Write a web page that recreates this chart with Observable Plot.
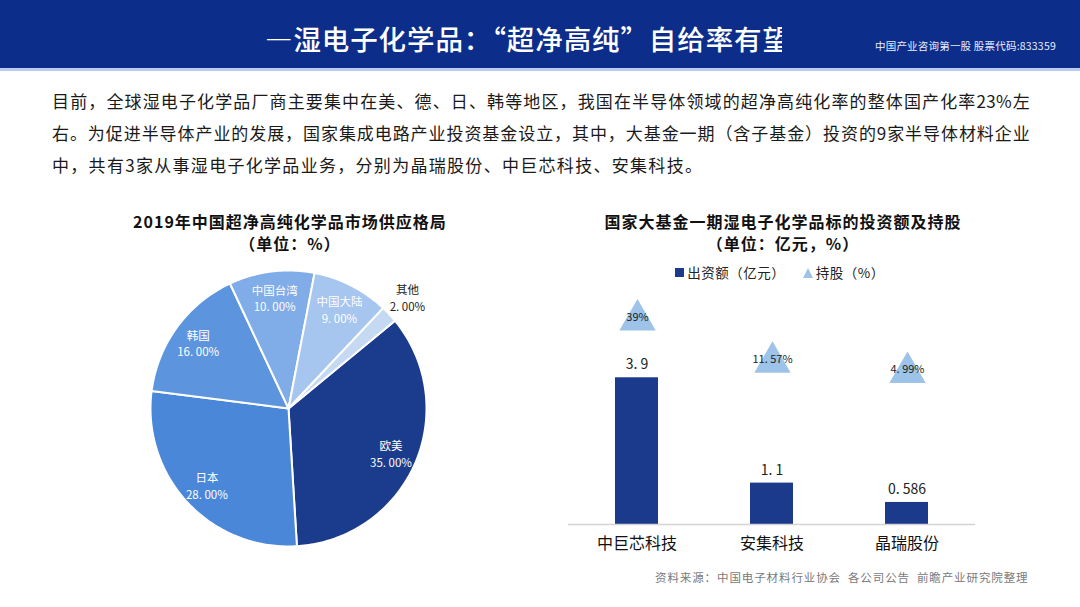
<!DOCTYPE html>
<html lang="zh-CN">
<head>
<meta charset="utf-8">
<script src="https://cdn.jsdelivr.net/npm/d3@7"></script>
<script src="https://cdn.jsdelivr.net/npm/@observablehq/plot@0.6"></script>
<style>
  html, body { margin: 0; padding: 0; background: #fff; }
  #page { position: relative; width: 1080px; height: 607px; overflow: hidden; font-family: "Noto Sans CJK SC", "Noto Sans", sans-serif; color: #222; }
  #header { position: absolute; left: 0; top: 0; width: 1080px; height: 68px; background: #0c2d8a; }
  #headline { position: absolute; left: 0; top: 68px; width: 1080px; height: 3px; background: #b9cdf0; }
  #title { position: absolute; left: 265px; top: 18px; width: 517px; height: 40px; overflow: hidden; white-space: nowrap; color: #fff; font-size: 27.5px; letter-spacing: 0.9px; line-height: 40px; font-weight: 500; }
  #brand { position: absolute; left: 875px; top: 38px; color: #e8eeff; font-size: 10.5px; white-space: nowrap; letter-spacing: 0.2px; }
  .para { position: absolute; left: 52px; width: 978px; font-size: 17px; letter-spacing: 0.3px; line-height: 32px; color: #1a1a1a; white-space: nowrap; }
  .just { text-align: justify; text-align-last: justify; }
  .plain { letter-spacing: 1.3px; }
  .ctitle { position: absolute; text-align: center; font-weight: bold; font-size: 16px; letter-spacing: 1px; line-height: 20px; height: 20px; color: #111; white-space: nowrap; }
  #legend { position: absolute; left: 560px; top: 262px; width: 440px; text-align: center; font-size: 13.5px; color: #222; letter-spacing: 0.5px; }
  #legend span.sw { display: inline-block; width: 9px; height: 9px; background: #1b3a8c; margin-right: 3px; vertical-align: 1px; }
  #legend span.tri { display: inline-block; width: 0; height: 0; border-left: 5.5px solid transparent; border-right: 5.5px solid transparent; border-bottom: 10px solid #9dc3e8; margin-right: 3px; vertical-align: 0px; }
  #source { position: absolute; left: 655px; top: 569px; font-size: 11.5px; color: #7a7a7a; letter-spacing: 0.9px; white-space: nowrap; }
  .abs { position: absolute; }
</style>
</head>
<body>
<div id="page">
  <div id="header"></div>
  <div id="headline"></div>
  <div id="title">—湿电子化学品：“超净高纯”自给率有望</div>
  <div id="brand">中国产业咨询第一股 股票代码:833359</div>
  <div class="para just" style="top:85px;">目前，全球湿电子化学品厂商主要集中在美、德、日、韩等地区，我国在半导体领域的超净高纯化率的整体国产化率23%左</div>
  <div class="para just" style="top:117px;">右。为促进半导体产业的发展，国家集成电路产业投资基金设立，其中，大基金一期（含子基金）投资的9家半导体材料企业</div>
  <div class="para plain" style="top:149px;">中，共有3家从事湿电子化学品业务，分别为晶瑞股份、中巨芯科技、安集科技。</div>

  <div class="ctitle" style="left:100px; width:380px; top:211px;">2019年中国超净高纯化学品市场供应格局</div>
  <div class="ctitle" style="left:100px; width:380px; top:233px;">（单位：%）</div>
  <div class="ctitle" style="left:563px; width:440px; top:211px;">国家大基金一期湿电子化学品标的投资额及持股</div>
  <div class="ctitle" style="left:563px; width:440px; top:233px;">（单位：亿元，%）</div>
  <div id="legend"><span class="sw"></span>出资额（亿元）&nbsp;&nbsp;&nbsp;&nbsp;&nbsp;<span class="tri"></span>持股（%）</div>

  <div id="pie" class="abs" style="left:138px; top:258px;"></div>
  <div id="bars" class="abs" style="left:560px; top:270px;"></div>
  <div id="tris" class="abs" style="left:560px; top:270px;"></div>

  <div id="source">资料来源：中国电子材料行业协会&nbsp;&nbsp;各公司公告&nbsp;&nbsp;前瞻产业研究院整理</div>
</div>
<script>
// ---------- Data ----------
const pieNames = ["欧美", "日本", "韩国", "中国台湾", "中国大陆", "其他"];
const pieValues = [35, 28, 16, 10, 9, 2];
const pieColors = ["#1b3b8c", "#4a87d9", "#5c95de", "#80ace8", "#a6c5ef", "#c6d9f3"];

const companies = ["中巨芯科技", "安集科技", "晶瑞股份"];
const investment = [3.9, 1.1, 0.586];     // 出资额（亿元）
const holding = [39, 11.57, 4.99];         // 持股（%）

const fmtNum = s => String(s).replace(".", ". ");

// ---------- Pie ----------
const startDeg = 50.5;
const arcs = d3.pie().sort(null)
  .startAngle(startDeg * Math.PI / 180)
  .endAngle(startDeg * Math.PI / 180 + 2 * Math.PI)(pieValues);

const slicePts = [];
const labels = [];
arcs.forEach((a, i) => {
  const name = pieNames[i];
  slicePts.push({name, x: 0, y: 0});
  const n = Math.max(2, Math.ceil((a.endAngle - a.startAngle) * 180 / Math.PI));
  for (let k = 0; k <= n; k++) {
    const t = a.startAngle + (a.endAngle - a.startAngle) * k / n;
    slicePts.push({name, x: Math.sin(t), y: Math.cos(t)});
  }
  slicePts.push({name, x: 0, y: 0});
  const mid = (a.startAngle + a.endAngle) / 2;
  const outside = pieValues[i] < 5;
  const f = outside ? 1.18 : 0.81;
  labels.push({
    name, x: f * Math.sin(mid), y: f * Math.cos(mid),
    text: name + "\n" + fmtNum(pieValues[i].toFixed(2)) + "%",
    color: outside ? "#222" : "#ffffff"
  });
});

const R = 150 / 138;
const pie = Plot.plot({
  width: 300, height: 300,
  margin: 0,
  x: {domain: [-R, R], axis: null},
  y: {domain: [-R, R], axis: null},
  color: {domain: pieNames, range: pieColors},
  style: {background: "transparent", overflow: "visible"},
  marks: [
    Plot.line(slicePts, {x: "x", y: "y", z: "name", fill: "name", stroke: "#ffffff", strokeWidth: 2, strokeLinejoin: "round"}),
    Plot.text(labels, {x: "x", y: "y", text: "text", fill: d => d.color, fontSize: 11.5, lineHeight: 1.45, fontFamily: "Noto Sans CJK SC"})
  ]
});
document.getElementById("pie").appendChild(pie);

// ---------- Bars ----------
const barData = companies.map((c, i) => ({company: c, inv: investment[i], hold: holding[i]}));
const common = {
  width: 440, height: 300,
  marginLeft: 8, marginRight: 25, marginTop: 20, marginBottom: 46,
  style: {background: "transparent", fontFamily: "Noto Sans CJK SC", overflow: "visible"}
};
const xOpts = {domain: companies, paddingInner: 0.68, paddingOuter: 0.34, label: null};

const bars = Plot.plot({
  ...common,
  x: xOpts,
  y: {domain: [0, 6.22], axis: null},
  marks: [
    Plot.barY(barData, {x: "company", y: "inv", fill: "#1b3a8c"}),
    Plot.ruleY([0], {stroke: "#d4d4d4", strokeWidth: 1.5}),
    Plot.text(barData, {x: "company", y: "inv", text: d => fmtNum(d.inv), dy: -13, fontSize: 14, fill: "#222"}),
    Plot.axisX({tickSize: 0, tickPadding: 13, fontSize: 16, fill: "#111", label: null})
  ]
});
document.getElementById("bars").appendChild(bars);

const tris = Plot.plot({
  ...common,
  x: {...xOpts, axis: null},
  y: {domain: [-93.5, 58.1], axis: null},
  marks: [
    Plot.dot(barData, {x: "company", y: "hold", symbol: "triangle", r: 13.5, fill: "#9dc3e8", stroke: "none"}),
    Plot.text(barData, {x: "company", y: "hold", text: d => fmtNum(d.hold) + "%", dy: -3, fontSize: 11, fill: "#222"})
  ]
});
document.getElementById("tris").appendChild(tris);
</script>
</body>
</html>
